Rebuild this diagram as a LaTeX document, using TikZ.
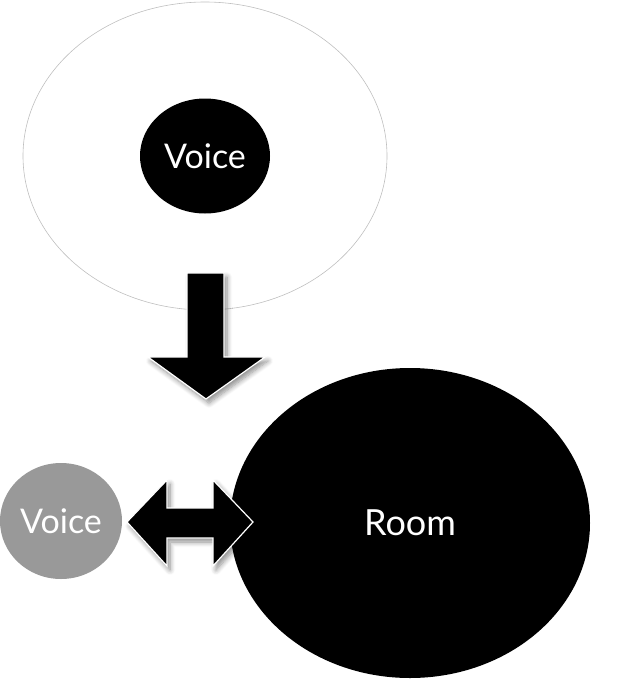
\documentclass[tikz,border=0pt]{standalone}
\usepackage{fontspec}
\setmainfont{Lato}
\usetikzlibrary{shapes.geometric,shadows.blur}
\tikzset{
  x=1pt,y=-1pt,
  blob/.style={ellipse,inner sep=0pt,font=\fontsize{34}{40}\selectfont,text=white},
  blockarrow/.style={fill=black,draw=white,line width=1.2pt,line join=miter,
    blur shadow={shadow xshift=3pt,shadow yshift=-4pt,shadow blur steps=8,shadow blur radius=5pt,shadow opacity=45}}
}
\begin{document}
\begin{tikzpicture}
\useasboundingbox (0,0) rectangle (628,686);
\node[blob,draw=black!25,line width=0.6pt,minimum width=364pt,minimum height=308pt] (outer) at (205,156) {};
\node[blob,fill=black,minimum width=130pt,minimum height=115pt] (voice1) at (205,156) {Voice};
\node[blob,fill=black,minimum width=360pt,minimum height=310pt] (room) at (410,523) {\fontsize{36}{42}\selectfont Room};
\node[blob,fill=black!40,minimum width=122pt,minimum height=116pt] (voice2) at (61,521) {Voice};
\draw[blockarrow] (187,273) -- (224,273) -- (224,357) -- (265,357) -- (206,399) -- (148,357) -- (187,357) -- cycle;
\draw[blockarrow] (127,522) -- (167,480) -- (167,508) -- (213,508) -- (213,480) -- (253,522) -- (213,566) -- (213,538) -- (167,538) -- (167,566) -- cycle;
\end{tikzpicture}
\end{document}
